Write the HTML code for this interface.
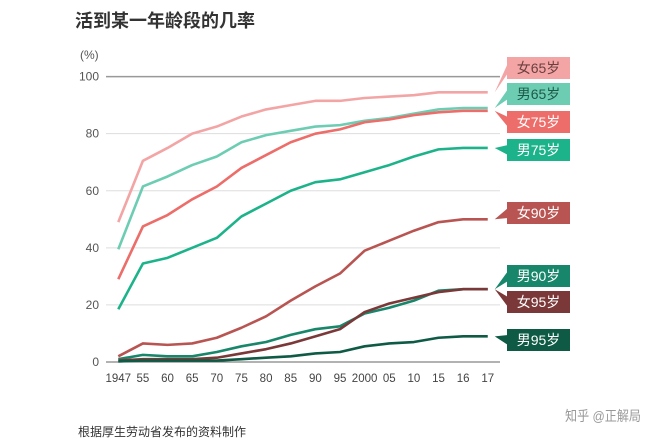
<!DOCTYPE html>
<html><head><meta charset="utf-8"><style>
body{margin:0;background:#fff;width:649px;height:448px;overflow:hidden;font-family:"Liberation Sans","Noto Sans CJK SC",sans-serif;}
</style></head><body>
<svg width="649" height="448" id="c" style="position:absolute;left:0;top:0">
<text x="75" y="27" font-size="18" font-weight="bold" fill="#333">活到某一年龄段的几率</text>
<text x="78" y="436" font-size="12" fill="#333">根据厚生劳动省发布的资料制作</text>
<text x="565" y="421" font-size="14" fill="#999" textLength="76" lengthAdjust="spacingAndGlyphs">知乎 @正解局</text>
<text x="80" y="59" font-size="12" fill="#555">(%)</text>
</svg>
<script>
const categories=["1947","55","60","65","70","75","80","85","90","95","2000","05","10","15","16","17"];
const yTicks=[0,20,40,60,80,100];
const seriesNames=["女65岁","男65岁","女75岁","男75岁","女90岁","男90岁","女95岁","男95岁"];
const f65=[49,70.5,75,80,82.5,86,88.5,90,91.5,91.5,92.5,93,93.5,94.5,94.5,94.5];
const m65=[39.5,61.5,65,69,72,77,79.5,81,82.5,83,84.5,85.5,87,88.5,89,89];
const f75=[29,47.5,51.5,57,61.5,68,72.5,77,80,81.5,84,85,86.5,87.5,88,88];
const m75=[18.5,34.5,36.5,40,43.5,51,55.5,60,63,64,66.5,69,72,74.5,75,75];
const f90=[2,6.5,6,6.5,8.5,12,16,21.5,26.5,31,39,42.5,46,49,50,50];
const m90=[1,2.5,2,2,3.5,5.5,7,9.5,11.5,12.5,17,19,21.5,25,25.5,25.5];
const f95=[0.5,1,1,1,1.5,3,4.5,6.5,9,11.5,17.5,20.5,22.5,24.5,25.5,25.5];
const m95=[0.2,0.5,0.5,0.5,0.5,1,1.5,2,3,3.5,5.5,6.5,7,8.5,9,9];
const series=[f65,m65,f75,m75,f90,m90,f95,m95];
const colors=["#f3a5a5","#6dcdb3","#ec6d69","#1db38a","#b85552","#17866a","#7b3838","#0e5a45"];
const textColors=["#6b3f3f","#1d5a4a","#fff","#fff","#fff","#fff","#fff","#fff"];
const labelY=[68,94,122,150,213,276,302,340];
const svg=document.getElementById('c');
const NS="http://www.w3.org/2000/svg";
const x0=118.3,dx=24.63,yBase=362,yScale=2.854;
const X=i=>x0+i*dx;
const Y=v=>yBase-v*yScale;
function mk(t,a){const e=document.createElementNS(NS,t);for(const k in a)e.setAttribute(k,a[k]);svg.appendChild(e);return e;}
yTicks.forEach(t=>{
  const l=mk('line',{x1:106,x2:500,y1:Y(t),y2:Y(t),stroke:t===100?'#999':(t===0?'#666':'#ddd'),'stroke-width':t===100?1.5:1});
  
  
  const tx=mk('text',{x:99,y:Y(t)+4,'font-size':12,fill:'#555','text-anchor':'end'});
  tx.textContent=t;
  
  
});
categories.forEach((c,i)=>{
  const tx=mk('text',{x:X(i),y:382,'font-size':11.5,fill:'#444','text-anchor':'middle'});
  tx.textContent=c;
  
  
});
series.forEach((s,k)=>{
  const p=mk('polyline',{points:s.map((v,i)=>X(i)+','+Y(v)).join(' '),fill:'none',stroke:colors[k],'stroke-width':2.6,'stroke-linejoin':'round'});
  
  
  const ly=labelY[k],ey=Y(s[s.length-1]);
  const tri=mk('polygon',{points:`${X(15)+7},${ey} 508,${ly-5} 508,${ly+5}`,fill:colors[k]});
  
  
  const r=mk('rect',{x:507,y:ly-11,width:63,height:22,fill:colors[k]});
  
  
  const t=mk('text',{x:538.5,y:ly+5,'font-size':14,fill:textColors[k],'text-anchor':'middle'});
  t.textContent=seriesNames[k];
  
  
});
</script>
</body></html>
